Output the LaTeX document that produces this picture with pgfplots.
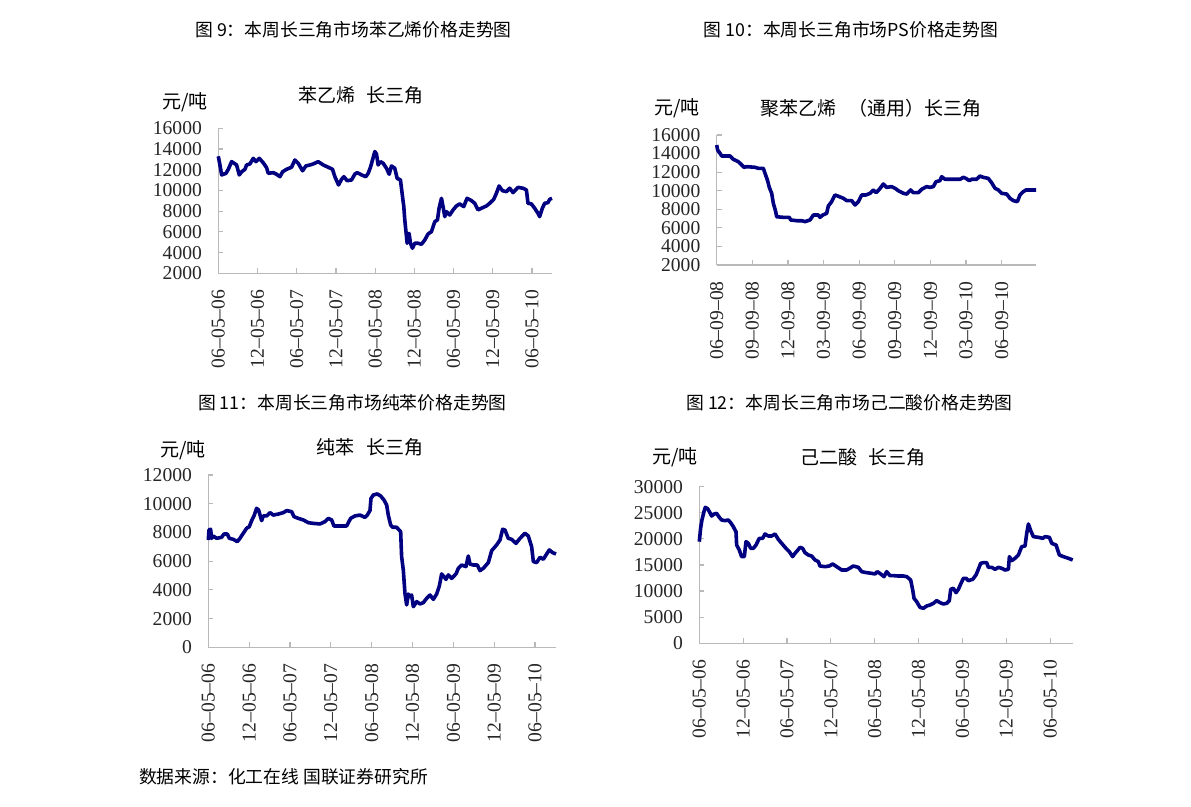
\documentclass[border=0pt]{standalone}
\usepackage{pgfplots}
\pgfplotsset{compat=1.18}
\usepackage{fontspec}
\setmainfont{Liberation Serif}
\newfontfamily\cjk{Noto Sans CJK SC}
\definecolor{navy}{RGB}{0,0,128}
\definecolor{axgray}{RGB}{185,185,185}
\pgfplotsset{
  mystyle/.style={
    scale only axis,
    axis lines=left,
    axis line style={-, draw=axgray, line width=0.6pt},
    tick align=inside,
    major tick length=2.5pt,
    tick style={draw=axgray, line width=0.6pt},
    clip=false,
    ticklabel style={font=\fontsize{9.8}{10}\selectfont, text=black!85},
    /pgf/number format/assume math mode=true,
    /pgf/number format/1000 sep={},
    scaled y ticks=false,
    yticklabel style={anchor=east, inner xsep=8pt, inner ysep=0pt},
    xticklabel style={rotate=90, anchor=east, inner xsep=8pt, inner ysep=0pt},
    xtick=data,
    xmin=0,
  },
  ser/.style={draw=navy, line width=1.8pt, line join=round, mark=none},
}
\newcommand{\captxt}{\cjk\fontsize{8.9}{10}\selectfont}
\newcommand{\ttl}{\cjk\fontsize{9.5}{11}\selectfont}
\newcommand{\gap}{\hspace{0.6em}}
\begin{document}
\begin{tikzpicture}
\useasboundingbox (0,0) rectangle (595.5pt,-403.5pt);

% captions
\node[font=\captxt] at (176.75pt,-15pt) {图 9：本周长三角市场苯乙烯价格走势图};
\node[font=\captxt] at (425.5pt,-15pt) {图 10：本周长三角市场PS价格走势图};
\node[font=\captxt] at (176.25pt,-201.5pt) {图 11：本周长三角市场纯苯价格走势图};
\node[font=\captxt] at (424.75pt,-201.5pt) {图 12：本周长三角市场己二酸价格走势图};
\node[font=\captxt, anchor=west] at (66pt,-388.5pt) {数据来源：化工在线 国联证券研究所};

% titles and units
\node[font=\ttl] at (180.5pt,-47.5pt) {苯乙烯\gap 长三角};
\node[font=\ttl] at (92.5pt,-51pt) {元/吨};
\node[font=\ttl] at (435.5pt,-54pt) {聚苯乙烯\gap （通用）长三角};
\node[font=\ttl] at (338.5pt,-54pt) {元/吨};
\node[font=\ttl] at (185pt,-223.5pt) {纯苯\gap 长三角};
\node[font=\ttl] at (91.5pt,-225pt) {元/吨};
\node[font=\ttl] at (431.5pt,-228.5pt) {己二酸\gap 长三角};
\node[font=\ttl] at (337.5pt,-228.5pt) {元/吨};

% Chart 1: styrene
\begin{axis}[mystyle, at={(109.15pt,-136.65pt)}, anchor=south west,
  width=166.85pt, height=72.5pt,
  xmax=51.07, ymin=2000, ymax=16000, ytick={2000,4000,...,16000},
  xtick={0,6,12,18,24,30,36,42,48},
  xticklabels={06--05--06,12--05--06,06--05--07,12--05--07,06--05--08,12--05--08,06--05--09,12--05--09,06--05--10}]
\addplot[ser] coordinates {(0,13300)(0.25,12460)(0.51,11500)(1.17,11650)(1.53,12040)(2.04,12780)(2.80,12460)(3.21,11500)(3.57,11800)(4.08,12040)(4.33,12460)(4.84,12560)(5.35,13100)(5.76,12780)(6.27,13100)(6.88,12670)(7.39,12200)(7.65,11650)(8.41,11720)(8.92,11560)(9.43,11330)(9.84,11800)(10.45,12040)(11.21,12240)(11.72,12940)(12.23,12620)(12.90,11900)(13.40,12360)(14.02,12460)(14.53,12560)(15.29,12780)(16.06,12460)(16.82,12240)(17.48,12040)(17.84,11330)(18.40,10530)(18.86,11070)(19.22,11330)(19.72,10940)(20.39,11010)(20.90,11580)(21.25,11720)(21.92,11500)(22.58,11330)(22.94,11650)(23.29,12240)(23.60,12940)(23.95,13750)(24.21,13520)(24.46,12460)(24.82,12780)(25.23,12620)(25.74,12140)(26.15,11560)(26.50,12360)(27.01,12140)(27.37,11170)(27.88,11010)(28.13,9720)(28.39,8440)(28.54,7150)(28.80,5540)(28.90,4900)(29.20,5860)(29.41,4900)(29.71,4420)(30.07,4900)(30.58,4900)(31.09,4800)(31.60,5220)(32.11,5800)(32.62,6020)(33.13,6990)(33.54,7150)(33.79,8280)(34.15,9240)(34.40,8440)(34.66,7470)(34.91,7950)(35.42,7630)(35.93,8120)(36.44,8500)(36.95,8700)(37.56,8440)(38.07,9240)(38.74,9020)(39.24,8760)(39.76,8120)(40.26,8280)(41.03,8500)(41.54,8760)(42.15,9140)(42.56,9720)(42.97,10430)(43.48,9980)(44.09,9880)(44.60,10210)(45.11,9790)(45.87,10300)(46.64,10210)(47.15,10050)(47.40,8760)(47.91,8700)(48.42,8280)(48.93,7790)(49.18,7470)(49.59,8280)(49.95,8760)(50.46,8820)(50.71,9140)(51.07,9240)};
\end{axis}

% Chart 2: PS
\begin{axis}[mystyle, at={(358.35pt,-132.5pt)}, anchor=south west,
  width=159.65pt, height=65pt,
  xmax=26.89, ymin=2000, ymax=16000, ytick={2000,4000,...,16000},
  xtick={0,3,6,9,12,15,18,21,24},
  xticklabels={06--09--08,09--09--08,12--09--08,03--09--09,06--09--09,09--09--09,12--09--09,03--09--10,06--09--10}]
\addplot[ser] coordinates {(0,14920)(0.08,14380)(0.28,14030)(0.42,13740)(1.12,13740)(1.40,13380)(1.82,13130)(2.11,12770)(2.30,12520)(2.53,12590)(3.23,12520)(3.51,12410)(3.93,12410)(4.07,11870)(4.27,11150)(4.43,10360)(4.63,9720)(4.77,8640)(4.97,7740)(5.05,7200)(5.61,7130)(6.12,7130)(6.23,6850)(6.74,6770)(7.16,6770)(7.44,6670)(7.86,6850)(8.14,7380)(8.56,7380)(8.70,7130)(8.93,7380)(9.26,7560)(9.40,8350)(9.68,8820)(9.96,9540)(10.33,9360)(10.67,9180)(10.95,8930)(11.37,8930)(11.65,8460)(11.93,8820)(12.21,9540)(12.57,9540)(12.91,9720)(13.19,10080)(13.42,9790)(13.70,10150)(14.03,10720)(14.31,10360)(14.73,10440)(15.02,10260)(15.30,10000)(15.72,9720)(16.00,9640)(16.33,10080)(16.56,9790)(16.98,9790)(17.26,10150)(17.68,10440)(17.96,10360)(18.24,10440)(18.47,10970)(18.80,11080)(18.94,11510)(19.23,11230)(19.93,11230)(20.49,11230)(20.77,11440)(20.99,11330)(21.27,11080)(21.47,11230)(21.89,11230)(22.17,11580)(22.45,11440)(22.87,11330)(23.15,10870)(23.44,10260)(23.72,10080)(24.00,9720)(24.42,9640)(24.70,9180)(24.98,8930)(25.32,8820)(25.54,9540)(25.82,9900)(26.05,10080)(26.38,10080)(26.89,10080)};
\end{axis}

% Chart 3: benzene
\begin{axis}[mystyle, at={(104.15pt,-323.65pt)}, anchor=south west,
  width=173.85pt, height=86.15pt,
  xmax=51.08, ymin=0, ymax=12000, ytick={0,2000,...,12000},
  xtick={0,6,12,18,24,30,36,42,48},
  xticklabels={06--05--06,12--05--06,06--05--07,12--05--07,06--05--08,12--05--08,06--05--09,12--05--09,06--05--10}]
\addplot[ser] coordinates {(0,7470)(0.10,8170)(0.34,8220)(0.49,7590)(0.73,7750)(1.22,7590)(1.96,7660)(2.30,7890)(2.79,7890)(3.09,7590)(3.67,7520)(4.26,7360)(4.65,7590)(5.14,7940)(5.63,8290)(6.02,8400)(6.37,8820)(6.71,9150)(7.10,9680)(7.39,9560)(7.84,8820)(8.08,9150)(8.57,9150)(9.06,9380)(9.55,9210)(10.28,9280)(11.02,9380)(11.51,9520)(12.24,9450)(12.59,9100)(13.22,8980)(13.96,8870)(14.69,8680)(15.43,8630)(16.41,8590)(17.14,8750)(17.63,8980)(18.12,8870)(18.46,8450)(19.34,8450)(20.32,8450)(20.91,8980)(21.55,9150)(22.28,9210)(23.02,9050)(23.36,9210)(23.75,9520)(23.90,10370)(24.24,10610)(24.83,10680)(25.32,10540)(25.81,10260)(26.20,9910)(26.44,9210)(26.79,8520)(27.08,8360)(27.67,8360)(28.26,8050)(28.40,6310)(28.65,5380)(28.89,3760)(29.14,2950)(29.38,3710)(29.62,3530)(29.87,3640)(30.12,2830)(30.61,3180)(31.10,3020)(31.59,3110)(32.08,3410)(32.57,3640)(33.06,3340)(33.55,3710)(33.94,4270)(34.28,5110)(34.62,4920)(34.92,4730)(35.26,5040)(35.75,4800)(36.39,5110)(36.73,5500)(37.22,5730)(37.85,5620)(38.20,6360)(38.44,5800)(38.93,5730)(39.52,5730)(39.91,5340)(40.40,5500)(41.14,5900)(41.63,6730)(42.36,7130)(42.85,7470)(43.24,8220)(43.58,8170)(44.07,7590)(44.56,7520)(45.20,7240)(45.79,7590)(46.52,7940)(47.01,7750)(47.50,7010)(47.75,5970)(48.24,5900)(48.73,6270)(49.22,6130)(49.71,6500)(50.10,6780)(50.59,6590)(51.08,6500)};
\end{axis}

% Chart 4: adipic acid
\begin{axis}[mystyle, at={(349.65pt,-321.65pt)}, anchor=south west,
  width=186.7pt, height=78.3pt,
  xmax=51.09, ymin=0, ymax=30000, ytick={0,5000,...,30000},
  xtick={0,6,12,18,24,30,36,42,48},
  xticklabels={06--05--06,12--05--06,06--05--07,12--05--07,06--05--08,12--05--08,06--05--09,12--05--09,06--05--10}]
\addplot[ser] coordinates {(0,19470)(0.18,22020)(0.36,23620)(0.64,25210)(0.82,26040)(1.14,25790)(1.46,25020)(1.69,24380)(2.01,24760)(2.37,24890)(2.74,24130)(3.06,23620)(3.51,23490)(3.97,23620)(4.29,23110)(4.65,22340)(5.02,21380)(5.11,18830)(5.47,17870)(5.79,16600)(6.16,16600)(6.39,19470)(6.71,19150)(7.03,18190)(7.39,18190)(7.76,18830)(8.21,20110)(8.67,20110)(8.99,20940)(9.44,20550)(9.90,20550)(10.36,20940)(10.81,19910)(11.27,19150)(11.86,18190)(12.32,17550)(12.77,16600)(13.09,17230)(13.41,17740)(13.78,18380)(14.14,18190)(14.46,17360)(14.92,16910)(15.37,16720)(15.83,15960)(16.29,15640)(16.51,14810)(17.20,14680)(17.79,14810)(18.25,15190)(18.80,14680)(19.48,14040)(20.16,14040)(20.71,14490)(21.08,14810)(21.76,14550)(22.22,13720)(22.90,13530)(23.59,13400)(24.04,13280)(24.36,13720)(24.82,13280)(25.27,12770)(25.64,13720)(26.09,12960)(26.55,12960)(27.24,12890)(27.92,12890)(28.38,12770)(28.92,12130)(29.20,10210)(29.38,8620)(29.74,7980)(30.20,6890)(30.66,6700)(31.11,7150)(31.57,7340)(32.03,7660)(32.48,8170)(32.94,7790)(33.39,7530)(33.85,7660)(34.21,8170)(34.40,10340)(34.76,10530)(35.13,9700)(35.45,10340)(35.77,11360)(36.13,12450)(36.50,12450)(36.82,12000)(37.41,12260)(37.86,13090)(38.18,14170)(38.50,15320)(38.87,15450)(39.32,15450)(39.55,14550)(40.01,14550)(40.47,14170)(40.92,14550)(41.38,14360)(41.83,14040)(42.29,14170)(42.43,16600)(42.75,15830)(43.20,16280)(43.66,16910)(44.11,18510)(44.57,18640)(44.80,21060)(45.03,22850)(45.35,21570)(45.71,20430)(46.40,20300)(46.99,20110)(47.31,20430)(47.90,20300)(48.22,19150)(48.81,18830)(49.27,16910)(49.82,16600)(50.50,16280)(51.09,15960)};
\end{axis}
\end{tikzpicture}
\end{document}
